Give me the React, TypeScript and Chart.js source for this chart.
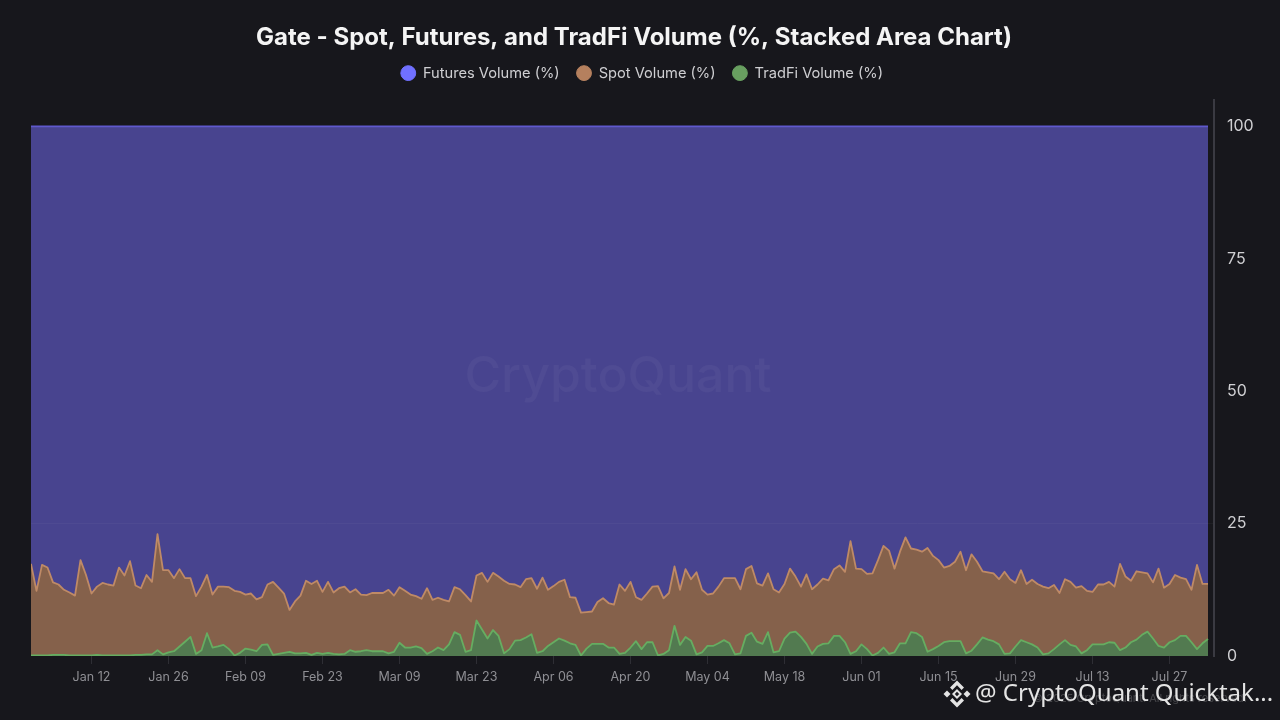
import React, { FC, useEffect, useRef } from "react";
import Chart from "chart.js/auto";

const tickDays = [11, 25, 39, 53, 67, 81, 95, 109, 123, 137, 151, 165, 179, 193, 207];
const tickLabels = ["Jan 12", "Jan 26", "Feb 09", "Feb 23", "Mar 09", "Mar 23", "Apr 06", "Apr 20", "May 04", "May 18", "Jun 01", "Jun 15", "Jun 29", "Jul 13", "Jul 27"];

const tradFiVolume = [
  0.1, 0.1, 0.1, 0.1, 0.2, 0.2, 0.2, 0.1, 0.1, 0.1, 0.1, 0.1, 0.2, 0.1, 0.1, 0.1, 0.1, 0.1, 0.1, 0.2,
  0.2, 0.3, 0.3, 1.1, 0.3, 0.7, 0.9, 1.8, 2.7, 3.6, 0.4, 1.1, 4.3, 1.6, 1.8, 2.1, 1.3, 0.1, 0.6, 1.4,
  1.2, 0.9, 2.1, 2.2, 0.2, 0.4, 0.6, 0.8, 0.5, 0.5, 0.6, 0.2, 0.6, 0.4, 0.6, 0.4, 0.3, 0.4, 1.1, 0.8,
  0.9, 1.1, 0.9, 0.9, 0.9, 0.5, 0.8, 2.5, 1.6, 1.6, 1.8, 1.5, 0.4, 0.9, 1.6, 1.1, 2.2, 4.5, 4.0, 0.8,
  1.1, 6.7, 5.0, 3.3, 4.9, 3.8, 0.5, 1.3, 2.9, 3.0, 3.5, 4.1, 0.6, 0.9, 1.9, 2.6, 3.3, 2.9, 2.4, 2.1,
  0.1, 1.4, 2.3, 2.3, 2.3, 1.6, 1.6, 0.4, 0.6, 1.6, 2.8, 1.3, 2.6, 2.6, 0.1, 0.4, 1.1, 5.7, 2.1, 3.6,
  2.9, 0.3, 0.7, 1.9, 1.9, 2.4, 3.0, 2.4, 0.3, 0.5, 3.8, 4.4, 2.7, 2.3, 4.5, 0.7, 0.9, 3.3, 4.4, 4.6,
  3.6, 2.3, 0.4, 1.8, 2.3, 2.4, 3.8, 3.8, 2.6, 0.4, 0.9, 2.2, 1.3, 0.1, 0.6, 1.6, 0.4, 0.7, 2.4, 2.4,
  4.5, 4.3, 3.6, 0.8, 1.3, 1.9, 2.6, 2.8, 2.8, 2.8, 0.5, 1.0, 2.2, 3.5, 3.1, 2.8, 2.2, 0.4, 0.5, 1.8,
  3.0, 2.6, 2.2, 1.6, 0.3, 0.5, 1.3, 2.2, 3.0, 2.1, 1.8, 0.5, 1.1, 2.2, 2.2, 2.2, 2.6, 2.5, 1.1, 1.6,
  2.6, 3.1, 4.0, 4.6, 3.3, 1.9, 1.6, 2.6, 3.0, 3.8, 3.8, 2.6, 1.3, 2.4, 3.2,
];

const spotVolume = [
  17.3, 12.2, 17.1, 16.6, 13.7, 13.3, 12.3, 11.9, 11.3, 18.0, 15.2, 11.7, 12.9, 13.7, 13.4, 13.2, 16.6, 15.1, 17.8, 13.1,
  12.6, 15.0, 13.7, 21.9, 15.9, 15.5, 13.8, 14.6, 12.0, 11.1, 10.9, 12.0, 11.0, 10.0, 11.3, 11.0, 11.7, 12.2, 11.5, 10.2,
  10.6, 9.8, 9.0, 11.3, 13.8, 12.5, 11.2, 7.9, 9.8, 10.9, 13.6, 13.4, 13.6, 11.7, 13.4, 11.6, 12.5, 12.7, 10.9, 11.8,
  10.7, 10.4, 11.0, 11.0, 11.0, 12.0, 10.6, 10.5, 10.7, 10.0, 9.5, 9.3, 12.4, 9.7, 9.4, 9.5, 8.1, 8.5, 8.6, 10.7,
  9.2, 8.5, 10.7, 10.7, 10.8, 11.2, 13.7, 12.3, 10.6, 10.0, 11.0, 10.6, 12.1, 13.9, 10.6, 10.6, 10.7, 11.5, 8.7, 8.9,
  8.1, 6.9, 6.1, 7.9, 8.6, 8.4, 8.1, 13.1, 11.7, 12.4, 8.3, 9.3, 9.2, 10.5, 13.1, 10.5, 10.8, 11.2, 10.4, 12.8,
  11.6, 15.5, 11.8, 9.7, 9.9, 10.7, 11.7, 12.3, 14.4, 12.1, 12.6, 12.6, 11.0, 11.0, 11.1, 11.9, 11.1, 10.3, 12.1, 10.4,
  9.5, 13.1, 12.2, 11.7, 12.3, 11.9, 12.6, 13.3, 13.3, 21.3, 15.6, 14.2, 14.2, 15.5, 17.5, 19.2, 19.5, 15.8, 17.3, 20.0,
  15.8, 15.8, 16.1, 19.6, 17.6, 16.2, 14.1, 14.2, 15.0, 16.9, 15.7, 18.2, 15.6, 12.5, 12.7, 12.8, 12.3, 15.5, 14.0, 12.0,
  13.2, 11.0, 12.2, 12.0, 12.8, 12.3, 12.1, 9.7, 11.5, 11.9, 11.1, 12.7, 11.2, 9.9, 11.3, 11.3, 11.4, 10.6, 16.3, 13.4,
  11.6, 12.9, 11.8, 11.0, 10.6, 14.6, 11.3, 11.0, 12.3, 11.0, 10.7, 9.9, 15.9, 11.2, 10.4,
];

const futuresVolume = [
  82.6, 87.7, 82.8, 83.3, 86.1, 86.5, 87.5, 88.0, 88.6, 81.9, 84.7, 88.2, 86.9, 86.2, 86.5, 86.7, 83.3, 84.8, 82.1, 86.7,
  87.2, 84.7, 86.0, 77.0, 83.8, 83.8, 85.3, 83.6, 85.3, 85.3, 88.7, 86.9, 84.7, 88.4, 86.9, 86.9, 87.0, 87.7, 87.9, 88.4,
  88.2, 89.3, 88.9, 86.5, 86.0, 87.1, 88.2, 91.3, 89.7, 88.6, 85.8, 86.4, 85.8, 87.9, 86.0, 88.0, 87.2, 86.9, 88.0, 87.4,
  88.4, 88.5, 88.1, 88.1, 88.1, 87.5, 88.6, 87.0, 87.7, 88.4, 88.7, 89.2, 87.2, 89.4, 89.0, 89.4, 89.7, 87.0, 87.4, 88.5,
  89.7, 84.8, 84.3, 86.0, 84.3, 85.0, 85.8, 86.4, 86.5, 87.0, 85.5, 85.3, 87.3, 85.2, 87.5, 86.8, 86.0, 85.6, 88.9, 89.0,
  91.8, 91.7, 91.6, 89.8, 89.1, 90.0, 90.3, 86.5, 87.7, 86.0, 88.9, 89.4, 88.2, 86.9, 86.8, 89.1, 88.1, 83.1, 87.5, 83.6,
  85.5, 84.2, 87.5, 88.4, 88.2, 86.9, 85.3, 85.3, 85.3, 87.4, 83.6, 83.0, 86.3, 86.7, 84.4, 87.4, 88.0, 86.4, 83.5, 85.0,
  86.9, 84.6, 87.4, 86.5, 85.4, 85.7, 83.6, 82.9, 84.1, 78.3, 83.5, 83.6, 84.5, 84.4, 81.9, 79.2, 80.1, 83.5, 80.3, 77.6,
  79.7, 79.9, 80.3, 79.6, 81.1, 81.9, 83.3, 83.0, 82.2, 80.3, 83.8, 80.8, 82.2, 84.0, 84.2, 84.4, 85.5, 84.1, 85.5, 86.2,
  83.8, 86.4, 85.6, 86.4, 86.9, 87.2, 86.6, 88.1, 85.5, 86.0, 87.1, 86.8, 87.7, 87.9, 86.5, 86.5, 86.0, 86.9, 82.6, 85.0,
  85.8, 84.0, 84.2, 84.4, 86.1, 83.5, 87.1, 86.4, 84.7, 85.2, 85.5, 87.5, 82.8, 86.4, 86.4,
];

// day number from Jan 01, the x axis is linear so it can run past the last point
const days = tradFiVolume.map((_, i) => i);

const overlayPlugin = {
  id: "overlay",
  afterLayout(chart: any) {
    // title and legend are not centred on the same x in the reference
    chart.titleBlock.left -= 21.5;
    chart.titleBlock.right -= 21.5;
    chart.legend.left -= 13.5;
    chart.legend.right -= 13.5;
    chart.legend.top -= 10;
    chart.legend.bottom -= 10;
  },
  afterDraw(chart: any) {
    const ctx = chart.ctx;
    ctx.save();
    // faint watermark on the areas
    ctx.textAlign = "center";
    ctx.textBaseline = "middle";
    ctx.font = "500 50px Inter";
    ctx.fillStyle = "rgba(255,255,255,0.04)";
    ctx.fillText("CryptoQuant", 618, 377);
    // small copyright line under the source tag
    ctx.textAlign = "right";
    ctx.font = "11px Inter";
    ctx.fillStyle = "rgba(255,255,255,0.2)";
    ctx.fillText("© 2025 CryptoQuant. All rights reserved.", 1247, 699);
    // source tag in the bottom right corner
    ctx.textAlign = "left";
    ctx.font = "24px 'Noto Sans'";
    ctx.fillStyle = "#e4e4e4";
    ctx.fillText("@ CryptoQuant Quicktak...", 975, 694);
    // logo in front of the tag
    const cx = 957;
    const cy = 694;
    const shape = (points: number[][]) => {
      ctx.beginPath();
      points.forEach(([px, py], i) => (i ? ctx.lineTo(cx + px, cy + py) : ctx.moveTo(cx + px, cy + py)));
      ctx.closePath();
    };
    [1, -1].forEach((s) => {
      shape([[0, -13.5 * s], [7, -6.5 * s], [4.6, -4.1 * s], [0, -8.7 * s], [-4.6, -4.1 * s], [-7, -6.5 * s]]);
      ctx.fill();
      shape([[13.5 * s, 0], [10 * s, 3.5], [6.5 * s, 0], [10 * s, -3.5]]);
      ctx.fill();
    });
    ctx.strokeStyle = "#e4e4e4";
    ctx.lineWidth = 2;
    shape([[0, -3.6], [3.6, 0], [0, 3.6], [-3.6, 0]]);
    ctx.stroke();
    ctx.restore();
  },
};

const App: FC = () => {
  const chartRef = useRef<HTMLCanvasElement>(null);

  useEffect(() => {
    document.body.style.margin = "0";
    document.body.style.background = "#17171c";
    if (!chartRef.current) return;

    const chart = new Chart(chartRef.current, {
      type: "line",
      data: {
        labels: days,
        datasets: [
          {
            label: "TradFi Volume (%)",
            data: tradFiVolume,
            borderColor: "#66ad61",
            backgroundColor: "#527a50",
            pointBackgroundColor: "#689f60",
            pointBorderColor: "#689f60",
            fill: "origin",
          },
          {
            label: "Spot Volume (%)",
            data: spotVolume,
            borderColor: "#bf8a66",
            backgroundColor: "#85614b",
            pointBackgroundColor: "#b5805e",
            pointBorderColor: "#b5805e",
            fill: "-1",
          },
          {
            label: "Futures Volume (%)",
            data: futuresVolume,
            borderColor: "#5f59cc",
            backgroundColor: "#48448f",
            pointBackgroundColor: "#7070ff",
            pointBorderColor: "#7070ff",
            fill: "-1",
          },
        ],
      },
      options: {
        animation: false,
        responsive: false,
        events: [],
        layout: { padding: { left: 31 } },
        elements: {
          line: { borderWidth: 1.8, tension: 0, borderJoinStyle: "round" },
          point: { radius: 0 },
        },
        plugins: {
          tooltip: { enabled: false },
          title: {
            display: true,
            text: "Gate - Spot, Futures, and TradFi Volume (%, Stacked Area Chart)",
            color: "#f4f4f4",
            font: { family: "Inter", size: 24, weight: "bold" },
            padding: { top: 23, bottom: 7 },
          },
          legend: {
            reverse: true,
            labels: {
              usePointStyle: true,
              pointStyle: "circle",
              boxHeight: 10.5,
              boxWidth: 15,
              color: "#cfcfd2",
              font: { family: "Inter", size: 14.65 },
              padding: 17,
            },
          },
        },
        scales: {
          x: {
            type: "linear",
            min: 0,
            max: 215.09,
            afterBuildTicks: (scale: any) => {
              scale.ticks = tickDays.map((value) => ({ value }));
            },
            afterFit: (scale: any) => {
              scale.height = 64;
            },
            ticks: {
              autoSkip: false,
              maxRotation: 0,
              color: "#8f8f94",
              font: { family: "Inter", size: 12.5 },
              padding: 6,
              callback: (value: any) => tickLabels[tickDays.indexOf(value)],
            },
            grid: { drawOnChartArea: false, color: "#2e2e34", tickLength: 8 },
            border: { display: false },
          },
          y: {
            position: "right",
            stacked: true,
            min: 0,
            max: 104.9,
            afterFit: (scale: any) => {
              scale.width = 66;
            },
            ticks: {
              stepSize: 25,
              includeBounds: false,
              color: "#cfcfd2",
              font: { family: "Inter", size: 16 },
              padding: 13,
            },
            grid: {
              // only the 25 line shows through the fill in the reference
              color: (ctx: any) => (ctx.tick && ctx.tick.value === 25 ? "rgba(255,255,255,0.035)" : "transparent"),
              tickLength: 0,
              z: 1,
            },
            border: { color: "#3a3a42", width: 2, z: 2 },
          },
        },
      },
      plugins: [overlayPlugin],
    } as any);

    return () => {
      chart.destroy();
    };
  }, []);

  return (
    <div style={{ width: 1280, height: 720, background: "#17171c" }}>
      <canvas ref={chartRef} width={1280} height={720} style={{ display: "block" }}></canvas>
    </div>
  );
};

export default App;
